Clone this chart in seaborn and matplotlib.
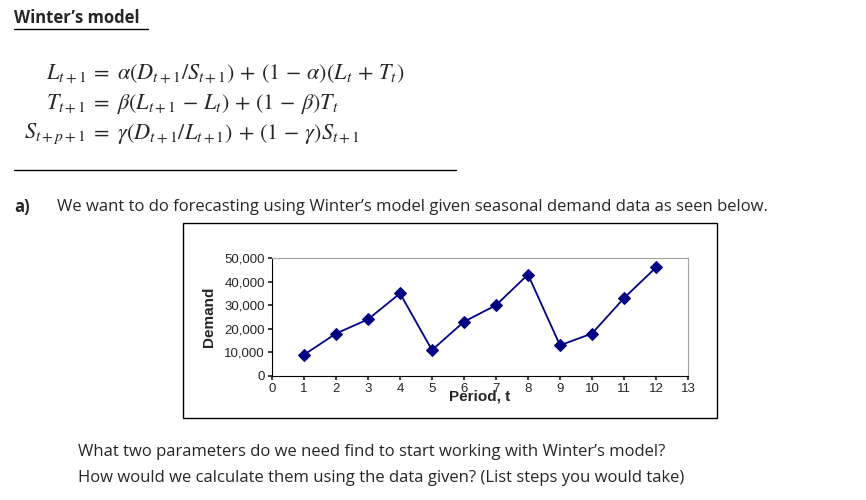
import matplotlib
matplotlib.use("Agg")
import matplotlib.pyplot as plt
import seaborn as sns
import pandas as pd

# demand data
periods = [1, 2, 3, 4, 5, 6, 7, 8, 9, 10, 11, 12]
demand = [9000, 18000, 24000, 35000, 11000, 23000, 30000, 43000, 13000, 18000, 33000, 46000]
x_ticks = list(range(0, 14))
y_ticks = [0, 10000, 20000, 30000, 40000, 50000]

df = pd.DataFrame({"period": periods, "demand": demand})

sns.set_theme(style="white")
plt.rcParams["font.family"] = ["Liberation Sans", "DejaVu Sans"]
plt.rcParams["mathtext.fontset"] = "stix"

W, H = 866, 500
fig = plt.figure(figsize=(W / 100, H / 100), dpi=100)
fig.patch.set_facecolor("white")

def fx(px):
    return px / W

def fy(py):
    return 1 - py / H

# title with underline
fig.text(fx(14), fy(18), "Winter\u2019s model", fontsize=12, fontweight="bold",
         family="Open Sans", va="center", ha="left")
fig.add_artist(plt.Line2D([fx(14), fx(148)], [fy(29), fy(29)], color="black", lw=1))

# equations
lhs = [r"$L_{t+1}$", r"$T_{t+1}$", r"$S_{t+p+1}$"]
rhs = [r"$=\ \alpha(D_{t+1}/S_{t+1})\,+\,(1\,-\,\alpha)(L_t\,+\,T_t)$",
       r"$=\ \beta(L_{t+1}\,-\,L_t)\,+\,(1\,-\,\beta)T_t$",
       r"$=\ \gamma(D_{t+1}/L_{t+1})\,+\,(1\,-\,\gamma)S_{t+1}$"]
eq_y = [74, 104, 134]
for l, r, y in zip(lhs, rhs, eq_y):
    fig.text(fx(86), fy(y), l, fontsize=16, ha="right", va="center")
    fig.text(fx(90), fy(y), r, fontsize=16, ha="left", va="center")
fig.add_artist(plt.Line2D([fx(14), fx(456)], [fy(170), fy(170)], color="black", lw=1))

# question text
fig.text(fx(14), fy(207), "a)", fontsize=12, fontweight="bold", family="Open Sans", va="center")
fig.text(fx(57), fy(207), "We want to do forecasting using Winter\u2019s model given seasonal demand data as seen below.",
         fontsize=12, family="Open Sans", va="center")
fig.text(fx(78), fy(452), "What two parameters do we need find to start working with Winter\u2019s model?",
         fontsize=12, family="Open Sans", va="center")
fig.text(fx(78), fy(478), "How would we calculate them using the data given? (List steps you would take)",
         fontsize=12, family="Open Sans", va="center")

# outer chart box
fig.add_artist(plt.Rectangle((fx(183), fy(418)), fx(717) - fx(183), fy(223) - fy(418),
                             fill=False, edgecolor="black", lw=1))

ax = fig.add_axes([fx(272), fy(376), fx(688) - fx(272), fy(258) - fy(376)])
sns.lineplot(data=df, x="period", y="demand", ax=ax, color="#000080", marker="D",
             markersize=6, markeredgecolor="#000080", linewidth=1.3)
ax.set_xlim(0, 13)
ax.set_ylim(0, 50000)
ax.set_xticks(x_ticks)
ax.set_yticks(y_ticks)
ax.set_yticklabels([f"{v:,}" for v in y_ticks])
ax.tick_params(labelsize=9.5, length=3, direction="out", pad=2, bottom=True, left=True)
ax.set_xlabel("Period, t", fontsize=11, fontweight="bold", labelpad=-4)
ax.set_ylabel("Demand", fontsize=11, fontweight="bold", labelpad=6)
for side in ["top", "right"]:
    ax.spines[side].set_color("#a0a0a0")
for side in ["left", "bottom"]:
    ax.spines[side].set_color("black")
for s in ax.spines.values():
    s.set_linewidth(0.8)

fig.savefig("out.png", dpi=100)
